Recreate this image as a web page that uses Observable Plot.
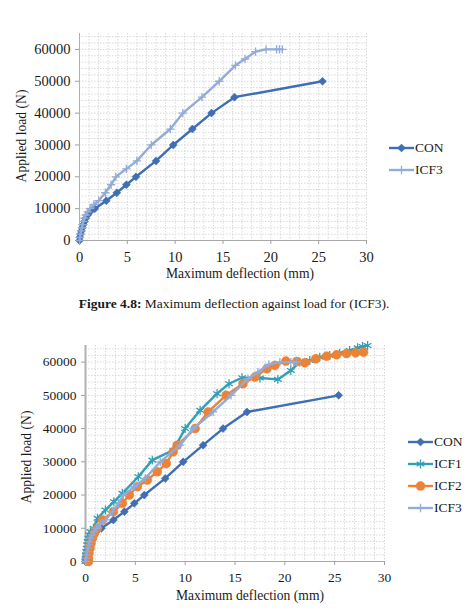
<!DOCTYPE html>
<html>
<head>
<meta charset="utf-8">
<script src="https://cdn.jsdelivr.net/npm/d3@7"></script>
<script src="https://cdn.jsdelivr.net/npm/@observablehq/plot@0.6"></script>
<style>
  body { margin: 0; background: #fff; }
  #page { position: relative; width: 474px; height: 612px; overflow: hidden;
          font-family: "Liberation Serif", "Times New Roman", serif; color: #1a1a1a; }
  .chart { position: absolute; left: 0; }
  .xlabel, .ylabel, .caption { position: absolute; white-space: nowrap; font-size: 13.6px; }
  .xlabel { transform: translate(-50%, -50%); }
  .ylabel { transform: translate(-50%, -50%) rotate(-90deg); }
  .caption { left: 0; width: 468px; text-align: center; font-size: 13.5px; }
  .legend { position: absolute; font-size: 13.5px; }
  .legend .item { display: flex; align-items: center; height: 22px; }
  .legend svg { margin-right: 1px; }
</style>
</head>
<body>
<div id="page">
  <div class="ylabel" style="left:22px;top:136px">Applied load (N)</div>
  <div class="xlabel" style="left:240px;top:274px">Maximum deflection (mm)</div>
  <div class="caption" style="top:296px"><b>Figure 4.8:</b> Maximum deflection against load for (ICF3).</div>
  <div class="ylabel" style="left:27px;top:457px">Applied load (N)</div>
  <div class="xlabel" style="left:250px;top:596px">Maximum deflection (mm)</div>
</div>
<script>
// Axis ticks
const xTicks = [0, 5, 10, 15, 20, 25, 30];
const yTicks = [0, 10000, 20000, 30000, 40000, 50000, 60000];

// Control beam (CON): deflection (mm) and load (N)
const conDefl = [0, 0.03, 0.1, 0.2, 0.3, 0.4, 0.52, 0.65, 0.85, 1.1, 1.6, 2.8, 3.9, 4.9, 5.9, 8.0, 9.8, 11.8, 13.8, 16.2, 25.4];
const conLoad = [0, 1000, 2000, 3000, 4000, 5000, 6000, 7000, 8000, 9000, 10000, 12500, 15000, 17500, 20000, 25000, 30000, 35000, 40000, 45000, 50000];

// ICF1
const icf1Defl = [0, 0.02, 0.05, 0.08, 0.12, 0.17, 0.22, 0.28, 0.35, 0.5, 0.8, 1.2, 2.0, 2.85, 3.7, 5.3, 6.7, 8.8, 10.0, 11.5, 13.2, 14.4, 15.7, 17.5, 19.3, 20.6, 21.5, 22.5, 23.5, 24.5, 25.5, 26.5, 27.3, 27.8, 28.3];
const icf1Load = [0, 1000, 2000, 3000, 4000, 5000, 6000, 7000, 8000, 9000, 10000, 13000, 15500, 18000, 20500, 25500, 30500, 33500, 40000, 45500, 50500, 53500, 55300, 55200, 54800, 57500, 60000, 60500, 61500, 62000, 62700, 63500, 64300, 64700, 65000];

// ICF2
const icf2Defl = [0.3, 0.3, 0.35, 0.45, 0.55, 0.7, 0.9, 1.2, 1.7, 2.8, 3.7, 4.4, 5.2, 6.2, 7.2, 8.1, 8.8, 9.2, 11.0, 12.3, 14.1, 15.8, 17.0, 18.2, 19.0, 20.1, 21.2, 22.0, 23.1, 24.2, 25.2, 26.2, 27.1, 27.9];
const icf2Load = [0, 1000, 2500, 4000, 5500, 7000, 8500, 10000, 12500, 15000, 17500, 20000, 22500, 24500, 27000, 29500, 33000, 35000, 40000, 45000, 50000, 53500, 55500, 58000, 59000, 60300, 60200, 59800, 61000, 61800, 62200, 62600, 62800, 63000];

// ICF3
const icf3Defl = [0, 0.05, 0.1, 0.17, 0.25, 0.32, 0.4, 0.5, 0.65, 0.85, 1.1, 1.5, 2.0, 2.7, 3.3, 3.8, 4.9, 6.0, 7.5, 9.5, 10.8, 12.8, 14.6, 16.3, 17.3, 18.4, 19.5, 20.6, 20.9, 21.2];
const icf3Load = [0, 1000, 2000, 3000, 4000, 5000, 6000, 7000, 8000, 9000, 10000, 11300, 12500, 15000, 17500, 20000, 22500, 25000, 30000, 35000, 40000, 45000, 50000, 55000, 57000, 59300, 60000, 60000, 60000, 60000];

const series = {
  CON:  {defl: conDefl,  load: conLoad,  color: "#3f6eb2", symbol: "diamond2", r: 3.6, fill: true},
  ICF1: {defl: icf1Defl, load: icf1Load, color: "#339fb6", symbol: "asterisk", r: 4.2, fill: false},
  ICF2: {defl: icf2Defl, load: icf2Load, color: "#ec8236", symbol: "circle",   r: 4.5, fill: true},
  ICF3: {defl: icf3Defl, load: icf3Load, color: "#92abd8", symbol: "plus",     r: 2.8, fill: false}
};

function rows(name) {
  const s = series[name];
  return s.defl.map((d, i) => ({name, defl: d, load: s.load[i]}));
}

function seriesMarks(name) {
  const s = series[name];
  const data = rows(name);
  return [
    Plot.line(data, {x: "defl", y: "load", stroke: s.color, strokeWidth: 2.4}),
    Plot.dot(data, {x: "defl", y: "load", symbol: s.symbol, r: s.r,
      fill: s.fill ? s.color : "none", stroke: s.color, strokeWidth: s.fill ? 0.5 : 1.3})
  ];
}

function chart(names, {width, height, marginLeft, marginRight, marginTop, marginBottom, fontSize, axisWidth}) {
  const minorX = d3.range(1, 31, 1);
  const minorY = d3.range(2000, 65001, 2000);
  return Plot.plot({
    width, height, marginLeft, marginRight, marginTop, marginBottom,
    style: {fontFamily: '"Liberation Serif", "Times New Roman", serif', fontSize: fontSize + "px",
            color: "#1a1a1a", background: "transparent", overflow: "visible"},
    x: {domain: [0, 30]},
    y: {domain: [0, 65000]},
    marks: [
      Plot.ruleX(minorX, {stroke: "#d8d8d8", strokeWidth: 1, strokeDasharray: "1.5,1.5"}),
      Plot.ruleY(minorY, {stroke: "#d8d8d8", strokeWidth: 1, strokeDasharray: "1.5,1.5"}),
      Plot.ruleX([0], {stroke: "#b0b0b0", strokeWidth: axisWidth}),
      Plot.ruleY([0], {stroke: "#a8a8a8", strokeWidth: 1}),
      Plot.axisX({ticks: xTicks, tickSize: 4, tickPadding: 7, stroke: "#a0a0a0", label: null, fontSize}),
      Plot.axisY({ticks: yTicks, tickFormat: d3.format("d"), tickSize: 4, tickPadding: 5, stroke: "#a0a0a0", label: null, fontSize}),
      ...names.flatMap(seriesMarks)
    ]
  });
}

function legend(names, left, top) {
  const box = d3.create("div").attr("class", "legend").style("left", left + "px").style("top", top + "px");
  for (const name of names) {
    const s = series[name];
    const item = box.append("div").attr("class", "item");
    const svg = item.append("svg").attr("width", 25).attr("height", 12);
    svg.append("line").attr("x1", 0).attr("x2", 25).attr("y1", 6).attr("y2", 6)
      .attr("stroke", s.color).attr("stroke-width", 2.4);
    const sym = {diamond2: d3.symbolDiamond2, asterisk: d3.symbolAsterisk, circle: d3.symbolCircle, plus: d3.symbolPlus}[s.symbol];
    svg.append("path").attr("transform", "translate(12.5,6)")
      .attr("d", d3.symbol(sym, s.r * s.r * Math.PI)())
      .attr("fill", s.fill ? s.color : "none").attr("stroke", s.color).attr("stroke-width", s.fill ? 0.5 : 1.3);
    item.append("span").text(name);
  }
  return box.node();
}

const page = document.getElementById("page");

const c1 = chart(["CON", "ICF3"], {width: 380, height: 290, marginLeft: 79, marginRight: 14, marginTop: 33, marginBottom: 50, fontSize: 14.5, axisWidth: 1});
c1.classList.add("chart");
c1.style.top = "0px";
page.prepend(c1);

const c2 = chart(["CON", "ICF1", "ICF2", "ICF3"], {width: 400, height: 302, marginLeft: 85, marginRight: 16, marginTop: 35, marginBottom: 51, fontSize: 13.5, axisWidth: 2});
c2.classList.add("chart");
c2.style.top = "310px";
page.prepend(c2);

page.appendChild(legend(["CON", "ICF3"], 389, 137));
page.appendChild(legend(["CON", "ICF1", "ICF2", "ICF3"], 408, 431));
</script>
</body>
</html>
